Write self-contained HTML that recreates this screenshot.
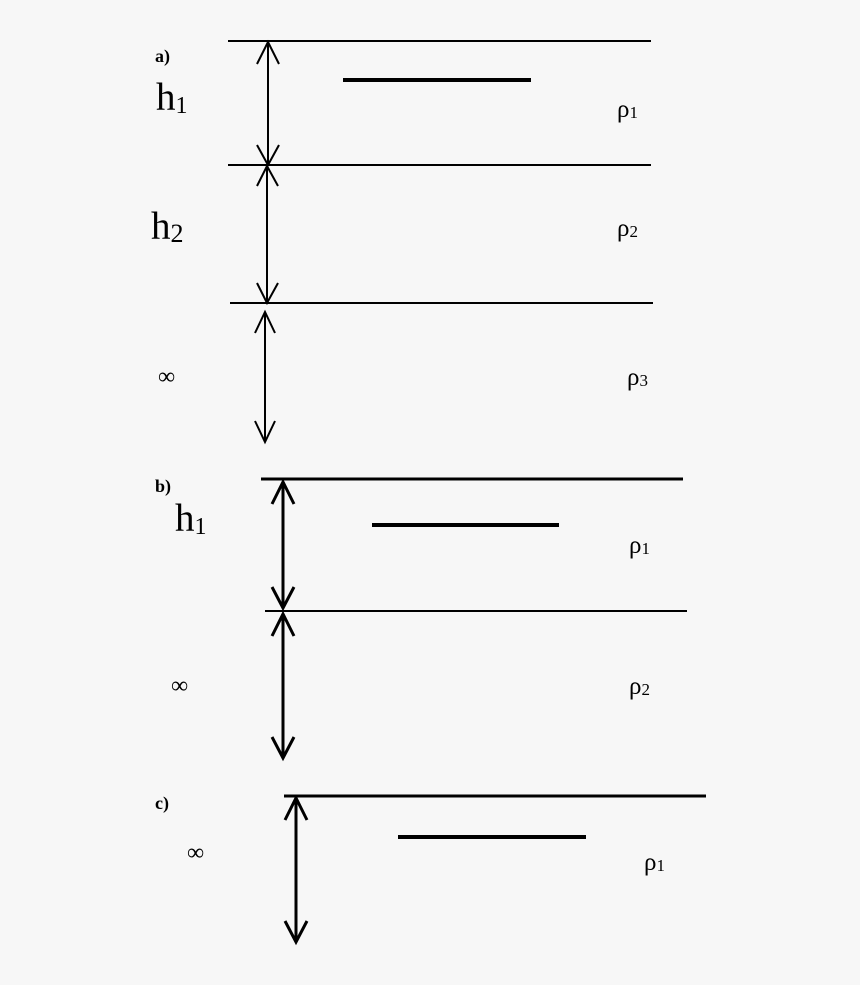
<!DOCTYPE html>
<html><head><meta charset="utf-8"><style>
html,body{margin:0;padding:0;background:#f7f7f7;}
svg{display:block}
text{font-family:"Liberation Serif",serif;fill:#000}
</style></head><body>
<svg width="860" height="985" viewBox="0 0 860 985" xmlns="http://www.w3.org/2000/svg">
<rect width="860" height="985" fill="#f7f7f7"/>
<g stroke="#000" fill="none" stroke-linecap="butt">
<line x1="228" y1="41" x2="651" y2="41" stroke-width="2"/>
<line x1="228" y1="165" x2="651" y2="165" stroke-width="2"/>
<line x1="230" y1="303" x2="653" y2="303" stroke-width="2"/>
<line x1="343" y1="80" x2="531" y2="80" stroke-width="4"/>
<line x1="268" y1="42" x2="268" y2="164" stroke-width="2"/>
<polyline points="257,64 268,42 279,64" stroke-width="2"/>
<polyline points="257,145 268,165 279,145" stroke-width="2"/>
<line x1="267" y1="166" x2="267" y2="302" stroke-width="2"/>
<polyline points="257,186 267,166 278,186" stroke-width="2"/>
<polyline points="257,283 267,303 278,283" stroke-width="2"/>
<line x1="265" y1="312" x2="265" y2="442" stroke-width="2"/>
<polyline points="255,333 265,312 275,333" stroke-width="2"/>
<polyline points="255,421 265,442 275,421" stroke-width="2"/>
<line x1="261" y1="479" x2="683" y2="479" stroke-width="3"/>
<line x1="265" y1="611" x2="687" y2="611" stroke-width="2"/>
<line x1="372" y1="525" x2="559" y2="525" stroke-width="4"/>
<line x1="283" y1="482" x2="283" y2="608" stroke-width="3"/>
<polyline points="272,504 283,482 294,504" stroke-width="3"/>
<polyline points="272,587 283,608 294,587" stroke-width="3"/>
<line x1="283" y1="614" x2="283" y2="758" stroke-width="3"/>
<polyline points="272,636 283,614 294,636" stroke-width="3"/>
<polyline points="272,737 283,758 294,737" stroke-width="3"/>
<line x1="284" y1="796" x2="706" y2="796" stroke-width="3"/>
<line x1="398" y1="837" x2="586" y2="837" stroke-width="4"/>
<line x1="296" y1="798" x2="296" y2="942" stroke-width="3"/>
<polyline points="285,820 296,798 307,820" stroke-width="3"/>
<polyline points="285,921 296,942 307,921" stroke-width="3"/>
</g>
<text x="155" y="62" font-size="18" font-weight="bold">a)</text>
<text x="155" y="492" font-size="18" font-weight="bold">b)</text>
<text x="155" y="809" font-size="18" font-weight="bold">c)</text>
<text x="156" y="110" font-size="39">h<tspan font-size="24" dy="3">1</tspan></text>
<text x="151" y="239" font-size="39">h<tspan font-size="26" dy="3">2</tspan></text>
<text x="175" y="531" font-size="39">h<tspan font-size="24" dy="3">1</tspan></text>
<text x="158" y="384" font-size="24">∞</text>
<text x="171" y="693" font-size="24">∞</text>
<text x="187" y="860" font-size="24">∞</text>
<text x="617" y="117" font-size="25">ρ<tspan font-size="17" dy="1">1</tspan></text>
<text x="617" y="236" font-size="25">ρ<tspan font-size="17" dy="1">2</tspan></text>
<text x="627" y="385" font-size="25">ρ<tspan font-size="17" dy="1">3</tspan></text>
<text x="629" y="553" font-size="25">ρ<tspan font-size="17" dy="1">1</tspan></text>
<text x="629" y="694" font-size="25">ρ<tspan font-size="17" dy="1">2</tspan></text>
<text x="644" y="870" font-size="25">ρ<tspan font-size="17" dy="1">1</tspan></text>
</svg>
</body></html>
